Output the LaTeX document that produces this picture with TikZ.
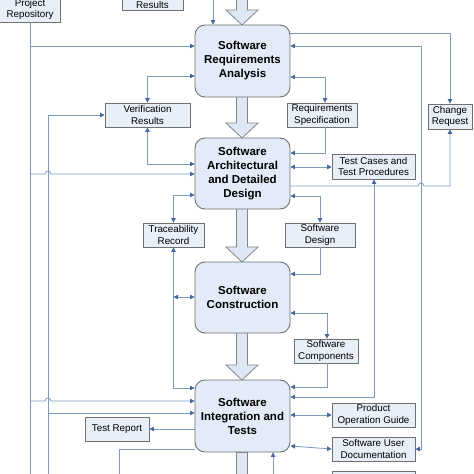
\documentclass[tikz,border=0pt]{standalone}
\usepackage{fontspec}
\setmainfont{Liberation Sans}
\usetikzlibrary{arrows.meta,calc}
\definecolor{linec}{RGB}{125,152,190}
\definecolor{tipc}{RGB}{70,104,156}
\definecolor{mainfill}{RGB}{226,235,247}
\definecolor{smallfill}{RGB}{232,239,248}
\definecolor{bordc}{RGB}{112,112,112}
\definecolor{hollowfill}{RGB}{222,232,245}
\begin{document}
\begin{tikzpicture}[x=1pt,y=-1pt,
 >={Triangle[length=4.5pt,width=4.5pt,color=tipc]},
 mainbox/.style={draw=bordc, line width=0.9pt, fill=mainfill, rounded corners=10pt, minimum width=95pt, minimum height=71pt, inner sep=0pt, align=center, font=\fontsize{11.5}{14}\selectfont\bfseries},
 smallbox/.style={draw=bordc, line width=0.8pt, fill=smallfill, minimum height=24pt, inner sep=0pt, align=center, font=\fontsize{9.8}{11.6}\selectfont},
 conn/.style={draw=linec, line width=0.8pt},
 hollow/.style={draw=bordc!85, line width=0.8pt, fill=hollowfill, line join=miter}
]
\useasboundingbox (0,0) rectangle (474,474);
\clip (0,0) rectangle (474,474);
\fill[white] (0,0) rectangle (474,474);

% hollow flow arrows
\foreach \ya/\yb in {-5/25, 97/138, 209/262, 333/380} {
  \draw[hollow] (236.5,\ya) -- (236.5,\yb-15) -- (226,\yb-15) -- (242,\yb) -- (258,\yb-15) -- (247.5,\yb-15) -- (247.5,\ya);
}
\draw[hollow] (236.5,480) -- (236.5,452) -- (247.5,452) -- (247.5,480);

% main boxes
\node[mainbox,minimum height=72pt] (b1) at (242.5,61) {Software\\Requirements\\Analysis};
\node[mainbox] (b2) at (242.5,173.5) {Software\\Architectural\\and Detailed\\Design};
\node[mainbox] (b3) at (242.5,297.5) {Software\\Construction};
\node[mainbox,minimum height=72pt] (b4) at (242.5,416) {Software\\Integration and\\Tests};

% small boxes
\node[smallbox,minimum width=61pt,minimum height=25pt] (repo) at (30,9.5) {Project\\Repository};
\node[smallbox,minimum width=61pt] (res) at (152.5,-2) {};
\node[font=\fontsize{9.8}{11.6}\selectfont,inner sep=0pt] (reslabel) at (152.5,4.6) {Results};
\node[smallbox,minimum width=85pt] (ver) at (147.5,115) {Verification\\Results};
\node[smallbox,minimum width=70pt] (reqspec) at (322,115) {Requirements\\Specification};
\node[smallbox,minimum width=44pt,minimum height=25pt] (change) at (450,116.5) {Change\\Request};
\node[smallbox,minimum width=83pt,minimum height=25pt] (testcases) at (373.5,166.5) {Test Cases and\\Test Procedures};
\node[smallbox,minimum width=61pt] (trace) at (173.5,235) {Traceability\\Record};
\node[smallbox,minimum width=70pt] (swdesign) at (320,235) {Software\\Design};
\node[smallbox,minimum width=64pt] (swcomp) at (326,351) {Software\\Components};
\node[smallbox,minimum width=83pt] (prodguide) at (373.5,415) {Product\\Operation Guide};
\node[smallbox,minimum width=83pt] (userdoc) at (373.5,449) {Software User\\Documentation};
\node[smallbox,minimum width=83pt] (extra) at (373.5,483) {};
\node[smallbox,minimum width=64pt] (testreport) at (117,429) {Test Report};

% left connectors
\draw[conn] (repo.south) -- (30,480);
\draw[conn,->] (30,46) -- (b1.west |- 0,46);
\draw[conn,->] (30,174) -- (45,174) arc[start angle=180,end angle=0,radius=3pt] -- (b2.west |- 0,174);
\draw[conn,->] (30,401) -- (45,401) arc[start angle=180,end angle=0,radius=3pt] -- (b4.west |- 0,401);
\draw[conn,->] (48,480) |- (ver.west);
\draw[conn,->] (48,413) -- (b4.west |- 0,413);
\draw[conn,<->] (b1.west |- 0,76) -| (ver.north);
\draw[conn,<->] (ver.south) |- (b2.west |- 0,164);
\draw[conn,<->] (b2.west |- 0,195) -| (trace.north);
\draw[conn,<->] (trace.south) |- (b4.west |- 0,388);
\draw[conn,<->] (trace.south |- 0,297) -- (b3.west |- 0,297);
\draw[conn,->] (b4.west |- 0,429) -- (testreport.east);
\draw[conn] (b4.west |- 0,449) -- (119,449) -- (119,480);
\draw[conn,->] (273,480) -- (b4.south -| 273,0);
\draw[conn,->] (213,-5) -- (b1.north -| 213,0);

% right connectors
\draw[conn,->] (b1.east |- 0,33) -| (change.north);
\draw[conn,<->] (b1.east |- 0,46) -- (421,46) -- (421,449) -- (userdoc.east);
\draw[conn,<->] (b1.east |- 0,77) -| (reqspec.north -| 325,0);
\draw[conn,->] (reqspec.south -| 325,0) |- (b2.east |- 0,153);
\draw[conn,<->] (b2.east |- 0,167) -- (testcases.west |- 0,167);
\draw[conn,->] (b2.east |- 0,186) -- (418,186) arc[start angle=180,end angle=0,radius=3pt] -- (change.south |- 0,186) -- (change.south);
\draw[conn,<->] (b4.east |- 0,397) -| (testcases.south -| 374,0);
\draw[conn,<->] (b2.east |- 0,196) -| (swdesign.north);
\draw[conn,->] (swdesign.south) |- (b3.east |- 0,274);
\draw[conn,<->] (b3.east |- 0,313) -| (swcomp.north -| 327,0);
\draw[conn,->] (swcomp.south -| 327,0) |- (b4.east |- 0,387);
\draw[conn,<->] (b4.east |- 0,415) -- (prodguide.west);
\draw[conn,<->] (b4.east |- 0,446) -- (userdoc.west);
\end{tikzpicture}
\end{document}
